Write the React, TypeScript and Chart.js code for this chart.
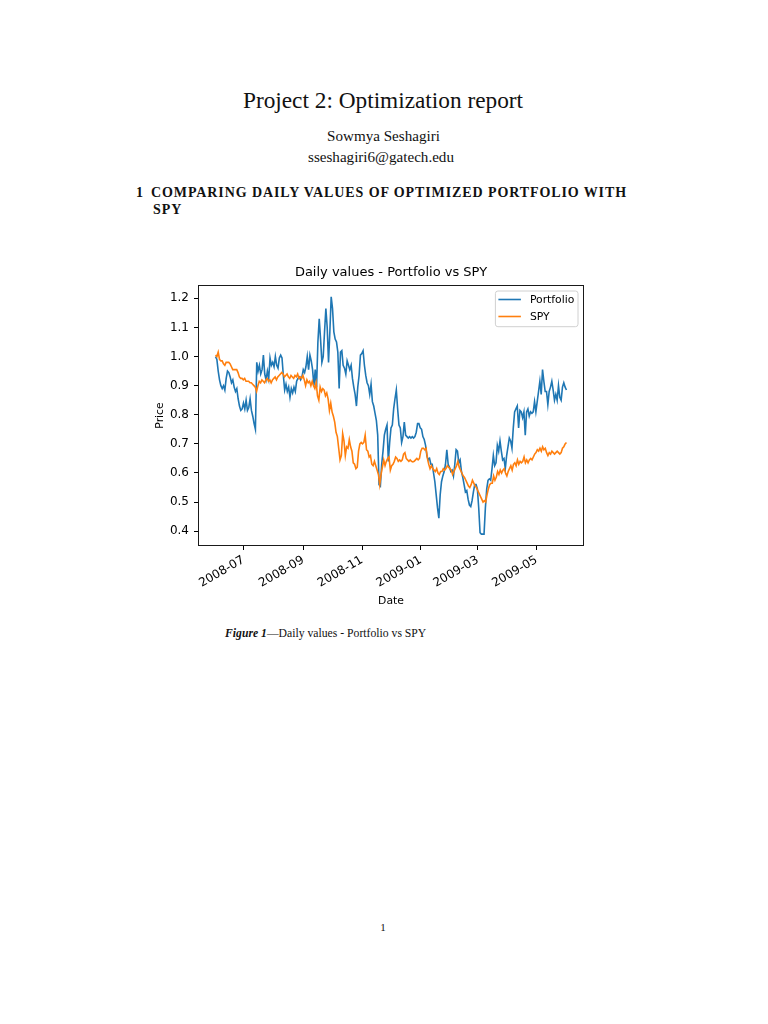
import { useEffect, useRef } from 'react';
import { Chart, registerables } from 'chart.js';

Chart.register(...registerables);

// Daily series span (first and last trading day shown)
const SERIES_START = '2008-06-02';
const SERIES_END = '2009-06-01';

// Normalised daily value of the optimised portfolio
const portfolioValues = [
  1.0, 0.99, 0.95, 0.92, 0.9, 0.89, 0.9, 0.885, 0.925, 0.95, 0.945, 0.93, 0.91, 0.92, 0.895, 0.88,
  0.89, 0.855, 0.83, 0.815, 0.82, 0.84, 0.82, 0.85, 0.815, 0.825, 0.855, 0.815, 0.795, 0.77, 0.75,
  0.98, 0.95, 0.97, 0.94, 0.955, 1.005, 0.94, 0.92, 0.95, 0.925, 0.995, 0.97, 0.98, 0.965, 1.0,
  0.97, 0.96, 0.995, 1.005, 0.995, 0.935, 0.885, 0.905, 0.88, 0.895, 0.86, 0.89, 0.875, 0.895,
  0.88, 0.915, 0.925, 0.93, 0.92, 0.93, 0.955, 0.945, 0.965, 1.0, 0.955, 1.005, 0.985, 0.955, 0.9,
  0.955, 0.895, 1.05, 1.13, 1.06, 0.98, 1.0, 1.085, 1.165, 1.1, 0.98, 1.085, 1.205, 1.165, 1.085,
  1.06, 1.05, 1.015, 0.89, 1.015, 1.02, 0.97, 0.96, 0.94, 0.985, 0.97, 0.955, 0.97, 0.925, 0.895,
  0.87, 0.83, 0.895, 0.935, 1.005, 1.01, 1.02, 0.97, 0.935, 0.91, 0.9, 0.87, 0.905, 0.845, 0.83,
  0.805, 0.78, 0.73, 0.56, 0.555, 0.63, 0.675, 0.73, 0.75, 0.765, 0.64, 0.705, 0.755, 0.765, 0.82,
  0.855, 0.885, 0.82, 0.765, 0.755, 0.705, 0.725, 0.775, 0.73, 0.725, 0.72, 0.725, 0.72, 0.725,
  0.72, 0.725, 0.74, 0.77, 0.77, 0.755, 0.75, 0.725, 0.715, 0.695, 0.66, 0.645, 0.65, 0.63, 0.63,
  0.6, 0.57, 0.525, 0.48, 0.445, 0.525, 0.57, 0.59, 0.605, 0.63, 0.68, 0.63, 0.62, 0.605, 0.61,
  0.59, 0.63, 0.68, 0.675, 0.635, 0.645, 0.605, 0.585, 0.56, 0.535, 0.54, 0.51, 0.49, 0.485, 0.505,
  0.535, 0.56, 0.56, 0.545, 0.48, 0.395, 0.39, 0.39, 0.39, 0.48, 0.545, 0.575, 0.58, 0.575, 0.615,
  0.66, 0.625, 0.635, 0.695, 0.675, 0.71, 0.675, 0.645, 0.65, 0.615, 0.66, 0.69, 0.72, 0.71, 0.685,
  0.755, 0.81, 0.82, 0.83, 0.755, 0.815, 0.81, 0.79, 0.81, 0.73, 0.81, 0.82, 0.795, 0.81, 0.805,
  0.81, 0.845, 0.81, 0.845, 0.88, 0.915, 0.87, 0.955, 0.915, 0.88, 0.88, 0.835, 0.88, 0.895, 0.915,
  0.885, 0.85, 0.87, 0.85, 0.9, 0.86, 0.85, 0.895, 0.91, 0.895, 0.885,
];

// Normalised daily value of SPY over the same period
const spyValues = [
  1.005, 1.0, 1.015, 0.99, 0.985, 0.985, 0.975, 0.97, 0.98, 0.98, 0.98, 0.975, 0.965, 0.955, 0.955,
  0.955, 0.955, 0.945, 0.93, 0.925, 0.925, 0.92, 0.925, 0.915, 0.915, 0.915, 0.91, 0.91, 0.905,
  0.9, 0.895, 0.88, 0.9, 0.915, 0.91, 0.92, 0.915, 0.91, 0.92, 0.925, 0.915, 0.92, 0.91, 0.92,
  0.925, 0.93, 0.92, 0.93, 0.935, 0.94, 0.945, 0.94, 0.93, 0.935, 0.94, 0.93, 0.925, 0.935, 0.93,
  0.925, 0.935, 0.93, 0.94, 0.925, 0.93, 0.925, 0.935, 0.92, 0.9, 0.92, 0.91, 0.915, 0.9, 0.915,
  0.9, 0.89, 0.91, 0.865, 0.85, 0.895, 0.88, 0.89, 0.885, 0.865, 0.875, 0.855, 0.815, 0.84, 0.81,
  0.795, 0.775, 0.74, 0.725, 0.685, 0.645, 0.66, 0.735, 0.71, 0.66, 0.69, 0.685, 0.715, 0.69,
  0.675, 0.635, 0.63, 0.615, 0.62, 0.675, 0.7, 0.705, 0.7, 0.705, 0.73, 0.68, 0.675, 0.655, 0.66,
  0.63, 0.625, 0.64, 0.625, 0.61, 0.595, 0.56, 0.595, 0.62, 0.645, 0.625, 0.64, 0.65, 0.655, 0.61,
  0.625, 0.63, 0.64, 0.655, 0.65, 0.64, 0.645, 0.64, 0.645, 0.665, 0.67, 0.65, 0.645, 0.64, 0.645,
  0.64, 0.638, 0.64, 0.645, 0.65, 0.645, 0.65, 0.675, 0.685, 0.685, 0.68, 0.685, 0.65, 0.63, 0.615,
  0.625, 0.615, 0.61, 0.605, 0.615, 0.6, 0.595, 0.605, 0.605, 0.615, 0.61, 0.615, 0.625, 0.62,
  0.615, 0.61, 0.595, 0.605, 0.615, 0.625, 0.64, 0.62, 0.61, 0.6, 0.59, 0.585, 0.575, 0.565, 0.555,
  0.55, 0.56, 0.575, 0.565, 0.555, 0.55, 0.54, 0.53, 0.52, 0.51, 0.5, 0.505, 0.5, 0.525, 0.545,
  0.56, 0.565, 0.565, 0.59, 0.575, 0.585, 0.605, 0.595, 0.61, 0.6, 0.61, 0.615, 0.6, 0.59, 0.605,
  0.615, 0.625, 0.61, 0.63, 0.635, 0.625, 0.645, 0.63, 0.64, 0.635, 0.64, 0.655, 0.635, 0.645,
  0.635, 0.645, 0.65, 0.645, 0.655, 0.665, 0.67, 0.68, 0.675, 0.685, 0.675, 0.69, 0.68, 0.685,
  0.67, 0.66, 0.67, 0.665, 0.675, 0.67, 0.665, 0.67, 0.675, 0.67, 0.665, 0.67, 0.685, 0.69, 0.7,
  0.705,
];

const monthTicks = ['2008-07', '2008-09', '2008-11', '2009-01', '2009-03', '2009-05'];
const priceTicks = [0.4, 0.5, 0.6, 0.7, 0.8, 0.9, 1.0, 1.1, 1.2];

const chartTitle = 'Daily values - Portfolio vs SPY';
const seriesLabels = ['Portfolio', 'SPY'];
const seriesColors = ['#1f77b4', '#ff7f0e'];

const dayNumber = (iso: string) => {
  const [y, m, d] = iso.split('-').map(Number);
  return Date.UTC(y, m - 1, d || 1) / 86400000;
};

const startDay = dayNumber(SERIES_START);
const endDay = dayNumber(SERIES_END);

const toPoints = (values: number[]) =>
  values.map((v, i) => ({ x: startDay + (i * (endDay - startDay)) / (values.length - 1), y: v }));

const SANS = '"DejaVu Sans", sans-serif';
const SERIF = '"Liberation Serif", "Times New Roman", serif';

// Title centred over the axes, box around the axes and a legend in the upper right corner
const framePlugin = {
  id: 'axesFrame',
  afterDraw(chart: any) {
    const { ctx, chartArea } = chart;
    const { left, top, right, bottom } = chartArea;
    ctx.save();

    ctx.fillStyle = '#000';
    ctx.font = `13px ${SANS}`;
    ctx.textAlign = 'center';
    ctx.textBaseline = 'middle';
    ctx.fillText(chartTitle, (left + right) / 2, top - 12.7);

    ctx.strokeStyle = '#1a1a1a';
    ctx.lineWidth = 1;
    ctx.strokeRect(left + 0.5, top + 0.5, right - left - 1, bottom - top - 1);

    // legend
    const fs = 10.8;
    const boxRight = right - 6;
    const boxTop = top + 6;
    const boxW = 82.6;
    const boxH = 35.7;
    const boxLeft = boxRight - boxW;
    const r = 2.5;
    ctx.beginPath();
    ctx.moveTo(boxLeft + r, boxTop);
    ctx.arcTo(boxRight, boxTop, boxRight, boxTop + boxH, r);
    ctx.arcTo(boxRight, boxTop + boxH, boxLeft, boxTop + boxH, r);
    ctx.arcTo(boxLeft, boxTop + boxH, boxLeft, boxTop, r);
    ctx.arcTo(boxLeft, boxTop, boxRight, boxTop, r);
    ctx.closePath();
    ctx.fillStyle = 'rgba(255,255,255,0.8)';
    ctx.fill();
    ctx.strokeStyle = '#d0d0d0';
    ctx.lineWidth = 1;
    ctx.stroke();

    ctx.font = `${fs}px ${SANS}`;
    ctx.textBaseline = 'middle';
    ctx.textAlign = 'left';
    chart.data.datasets.forEach((ds: any, i: number) => {
      const cy = boxTop + 8.5 + i * 17;
      ctx.strokeStyle = ds.borderColor;
      ctx.lineWidth = 1.6;
      ctx.beginPath();
      ctx.moveTo(boxLeft + 3, cy);
      ctx.lineTo(boxLeft + 25.5, cy);
      ctx.stroke();
      ctx.fillStyle = '#000';
      ctx.fillText(ds.label, boxLeft + 34.5, cy + 0.5);
    });
    ctx.restore();
  },
};

function PriceChart() {
  const canvasRef = useRef<HTMLCanvasElement | null>(null);

  useEffect(() => {
    if (!canvasRef.current) return;
    Chart.defaults.font.family = SANS;
    Chart.defaults.color = '#000';

    const allValues = [...portfolioValues, ...spyValues];
    const lo = Math.min(...allValues);
    const hi = Math.max(...allValues);
    const yPad = (hi - lo) * 0.05;
    const xPad = (endDay - startDay) * 0.05;

    const tickFont = { family: SANS, size: 12 };

    const chart = new Chart(canvasRef.current, {
      type: 'line',
      data: {
        datasets: [
          {
            label: seriesLabels[0],
            data: toPoints(portfolioValues),
            borderColor: seriesColors[0],
            backgroundColor: seriesColors[0],
            borderWidth: 1.6,
            pointRadius: 0,
            tension: 0,
            order: 1,
          },
          {
            label: seriesLabels[1],
            data: toPoints(spyValues),
            borderColor: seriesColors[1],
            backgroundColor: seriesColors[1],
            borderWidth: 1.6,
            pointRadius: 0,
            tension: 0,
            order: 0,
          },
        ],
      },
      options: {
        animation: false,
        responsive: false,
        devicePixelRatio: 1,
        parsing: false,
        layout: { padding: { left: 0, right: 16, top: 27, bottom: 0 } },
        plugins: {
          legend: { display: false },
          tooltip: { enabled: false },
          title: { display: false },
        },
        scales: {
          x: {
            type: 'linear',
            min: startDay - xPad,
            max: endDay + xPad,
            afterBuildTicks: (scale: any) => {
              scale.ticks = monthTicks.map((m) => ({ value: dayNumber(m + '-01') }));
            },
            afterFit: (scale: any) => {
              scale.height = 72;
            },
            grid: {
              display: true,
              drawOnChartArea: false,
              drawTicks: true,
              tickLength: 4,
              color: '#000',
              lineWidth: 1,
            },
            border: { display: false },
            ticks: {
              autoSkip: false,
              minRotation: 30,
              maxRotation: 30,
              padding: 3,
              color: '#000',
              font: tickFont,
              callback: (value: any) => {
                const m = monthTicks.find((t) => dayNumber(t + '-01') === value);
                return m ?? '';
              },
            },
            title: {
              display: true,
              text: 'Date',
              color: '#000',
              font: { family: SANS, size: 10.8 },
              padding: { top: 0, bottom: 10.5 },
            },
          },
          y: {
            type: 'linear',
            min: lo - yPad,
            max: hi + yPad,
            afterBuildTicks: (scale: any) => {
              scale.ticks = priceTicks.map((v) => ({ value: v }));
            },
            afterFit: (scale: any) => {
              scale.width = 58;
            },
            grid: {
              display: true,
              drawOnChartArea: false,
              drawTicks: true,
              tickLength: 4,
              color: '#000',
              lineWidth: 1,
            },
            border: { display: false },
            ticks: {
              padding: 5,
              color: '#000',
              font: tickFont,
              callback: (value: any) => Number(value).toFixed(1),
            },
            title: {
              display: true,
              text: 'Price',
              color: '#000',
              font: { family: SANS, size: 10.8 },
              padding: { top: 13.5, bottom: 0 },
            },
          },
        },
      },
      plugins: [framePlugin],
    });

    return () => chart.destroy();
  }, []);

  return (
    <canvas
      ref={canvasRef}
      width={460}
      height={360}
      style={{ position: 'absolute', left: 140, top: 258, width: 460, height: 360 }}
    />
  );
}

const textAt = (top: number, size: number, extra: any = {}) => ({
  position: 'absolute' as const,
  top,
  fontFamily: SERIF,
  fontSize: size,
  lineHeight: `${size}px`,
  color: '#111',
  whiteSpace: 'nowrap' as const,
  ...extra,
});

export default function App() {
  return (
    <div
      style={{
        position: 'absolute',
        left: 0,
        top: 0,
        width: 768,
        height: 1024,
        background: '#fff',
        overflow: 'hidden',
      }}
    >
      <div style={textAt(88.8, 23.3, { left: 0, width: 766, textAlign: 'center' })}>
        Project 2: Optimization report
      </div>
      <div style={textAt(129.1, 15.1, { left: 0, width: 767, textAlign: 'center' })}>
        Sowmya Seshagiri
      </div>
      <div style={textAt(150.1, 15.1, { left: 0, width: 762, textAlign: 'center' })}>
        sseshagiri6@gatech.edu
      </div>
      <div style={textAt(185.6, 14, { left: 136, fontWeight: 'bold' })}>1</div>
      <div style={textAt(185.6, 14, { left: 151, fontWeight: 'bold', letterSpacing: 0.9 })}>
        COMPARING DAILY VALUES OF OPTIMIZED PORTFOLIO WITH
      </div>
      <div style={textAt(203, 14, { left: 153, fontWeight: 'bold', letterSpacing: 0.9 })}>SPY</div>

      <PriceChart />

      <div style={textAt(628.2, 11.7, { left: 225 })}>
        <span style={{ fontWeight: 'bold', fontStyle: 'italic' }}>Figure 1</span>
        —Daily values - Portfolio vs SPY
      </div>
      <div style={textAt(921.8, 11, { left: 0, width: 766, textAlign: 'center' })}>1</div>
    </div>
  );
}
